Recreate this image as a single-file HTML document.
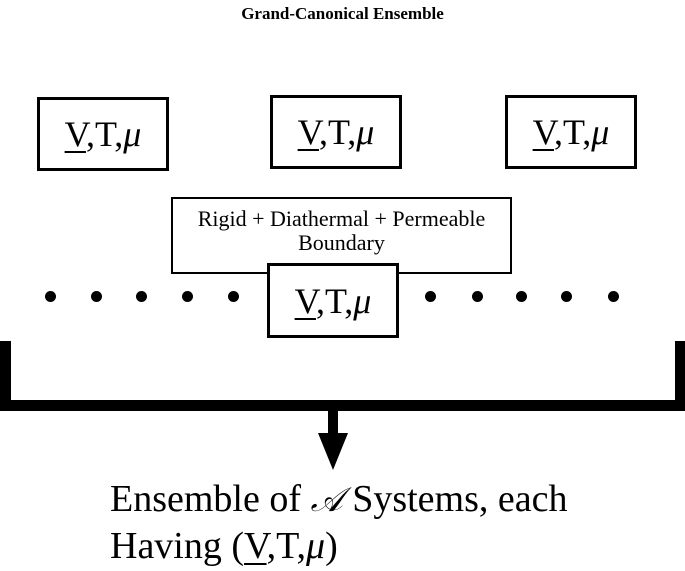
<!DOCTYPE html>
<html><head><style>
body{margin:0;width:685px;height:571px;background:#fff;position:relative;overflow:hidden;font-family:"Liberation Serif",serif;color:#000}
.b{position:absolute;border:3px solid #000;box-sizing:border-box;display:flex;align-items:center;justify-content:center;font-size:36px;background:#fff}
.u{text-decoration:underline;text-decoration-thickness:2px;text-underline-offset:5px}
i{font-style:italic}
.d{position:absolute;width:11px;height:11px;border-radius:50%;background:#000;top:291px}
.k{position:absolute;background:#000}
</style></head><body>
<div style="position:absolute;top:4px;left:0;width:685px;text-align:center;font-weight:bold;font-size:17px">Grand-Canonical Ensemble</div>
<div class="b" style="left:37px;top:97px;width:132px;height:74px"><span><span class="u">V</span>,T,<i>μ</i></span></div>
<div class="b" style="left:270px;top:95px;width:132px;height:74px"><span><span class="u">V</span>,T,<i>μ</i></span></div>
<div class="b" style="left:505px;top:95px;width:132px;height:74px"><span><span class="u">V</span>,T,<i>μ</i></span></div>
<div class="b" style="left:171px;top:197px;width:341px;height:77px;align-items:flex-start;font-size:22px;line-height:24px;padding-top:8px;text-align:center;border-width:2px;white-space:nowrap"><span>Rigid + Diathermal + Permeable<br>Boundary</span></div>
<div class="b" style="left:267px;top:263px;width:132px;height:75px"><span><span class="u">V</span>,T,<i>μ</i></span></div>
<div class="d" style="left:45px"></div><div class="d" style="left:91px"></div><div class="d" style="left:136px"></div><div class="d" style="left:182px"></div><div class="d" style="left:228px"></div>
<div class="d" style="left:425px"></div><div class="d" style="left:472px"></div><div class="d" style="left:516px"></div><div class="d" style="left:561px"></div><div class="d" style="left:608px"></div>
<div class="k" style="left:0;top:341px;width:11px;height:70px"></div>
<div class="k" style="left:675px;top:341px;width:10px;height:70px"></div>
<div class="k" style="left:0;top:400px;width:685px;height:11px"></div>
<div class="k" style="left:328px;top:410px;width:10px;height:24px"></div>
<svg style="position:absolute;left:0;top:0" width="685" height="571"><polygon points="318,433 348,433 333,470" fill="#000"/></svg>
<div style="position:absolute;left:110px;top:476px;font-size:38px;line-height:46px;white-space:nowrap">Ensemble of <i style="font-family:'DejaVu Serif',serif;font-size:34px">𝒜</i> Systems, each<br>Having (<span class="u">V</span>,T,<i>μ</i>)</div>
</body></html>
